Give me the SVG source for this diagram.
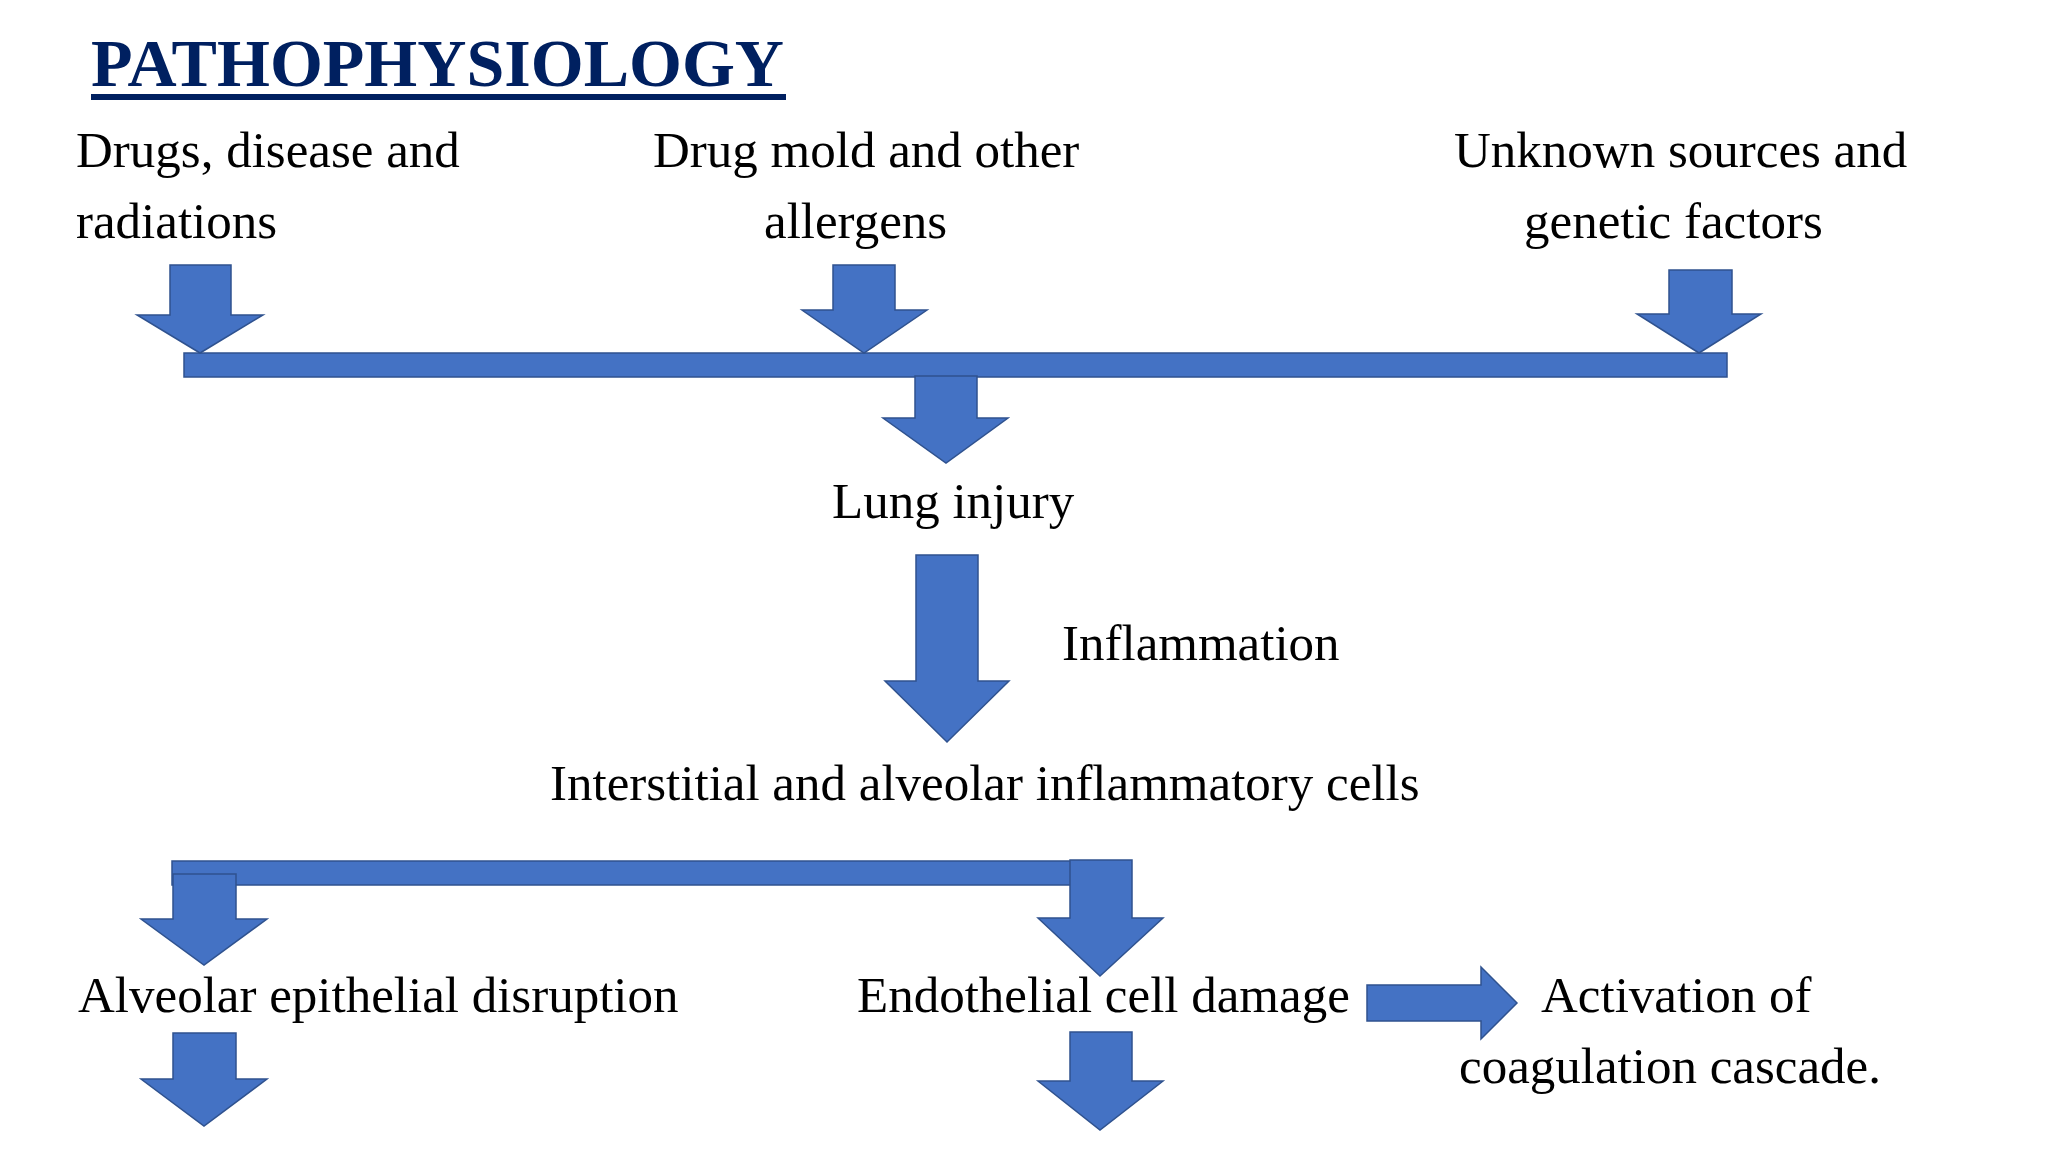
<svg xmlns="http://www.w3.org/2000/svg" width="2048" height="1152" viewBox="0 0 2048 1152">
<style>
.t{font-family:"Liberation Serif","Times New Roman",serif;font-size:51px;fill:#000}
.title{font-family:"Liberation Serif","Times New Roman",serif;font-size:67px;font-weight:bold;fill:#002060}
.ar{fill:#4472C4;stroke:#2F528F;stroke-width:1.5;stroke-linejoin:miter}
</style>
<rect width="2048" height="1152" fill="#ffffff"/>
<g id="title">
<text class="title" x="91" y="86" textLength="693" lengthAdjust="spacingAndGlyphs">PATHOPHYSIOLOGY</text>
<rect x="91" y="94" width="695" height="6" fill="#002060"/>
</g>
<g id="connectors">
<rect class="ar" x="184" y="353" width="1543" height="24"/>
<path class="ar" d="M170,265 L231,265 L231,315 L263,315 L200,353 L137,315 L170,315 Z"/>
<path class="ar" d="M833,265 L895,265 L895,310 L927,310 L864,353 L802,310 L833,310 Z"/>
<path class="ar" d="M1669,270 L1732,270 L1732,314 L1761,314 L1699,353 L1637,314 L1669,314 Z"/>
<path class="ar" d="M915,376 L977,376 L977,418 L1008,418 L946,463 L883,418 L915,418 Z"/>
<path class="ar" d="M916,555 L978,555 L978,681 L1009,681 L947,742 L885,681 L916,681 Z"/>
<rect class="ar" x="172" y="861" width="959" height="24"/>
<path class="ar" d="M173,874 L236,874 L236,919 L267,919 L204,965 L141,919 L173,919 Z"/>
<path class="ar" d="M1070,860 L1132,860 L1132,918 L1163,918 L1100,976 L1038,918 L1070,918 Z"/>
<path class="ar" d="M173,1033 L236,1033 L236,1079 L267,1079 L204,1126 L141,1079 L173,1079 Z"/>
<path class="ar" d="M1070,1032 L1132,1032 L1132,1081 L1163,1081 L1100,1130 L1038,1081 L1070,1081 Z"/>
<path class="ar" d="M1367,985 L1481,985 L1481,967 L1517,1003 L1481,1039 L1481,1021 L1367,1021 Z"/>
</g>
<g id="n-drugs"><text class="t" x="76" y="167">Drugs, disease and</text><text class="t" x="76" y="238">radiations</text></g>
<g id="n-mold"><text class="t" x="653" y="167">Drug mold and other</text><text class="t" x="764" y="238">allergens</text></g>
<g id="n-unknown"><text class="t" x="1454" y="167">Unknown sources and</text><text class="t" x="1524" y="238">genetic factors</text></g>
<g id="n-lung"><text class="t" x="832" y="518">Lung injury</text></g>
<g id="n-inflammation"><text class="t" x="1062" y="660">Inflammation</text></g>
<g id="n-cells"><text class="t" x="550" y="800">Interstitial and alveolar inflammatory cells</text></g>
<g id="n-alveolar"><text class="t" x="78" y="1012">Alveolar epithelial disruption</text></g>
<g id="n-endothelial"><text class="t" x="857" y="1012">Endothelial cell damage</text></g>
<g id="n-coag"><text class="t" x="1541" y="1012">Activation of</text><text class="t" x="1459" y="1083">coagulation cascade.</text></g>
</svg>
